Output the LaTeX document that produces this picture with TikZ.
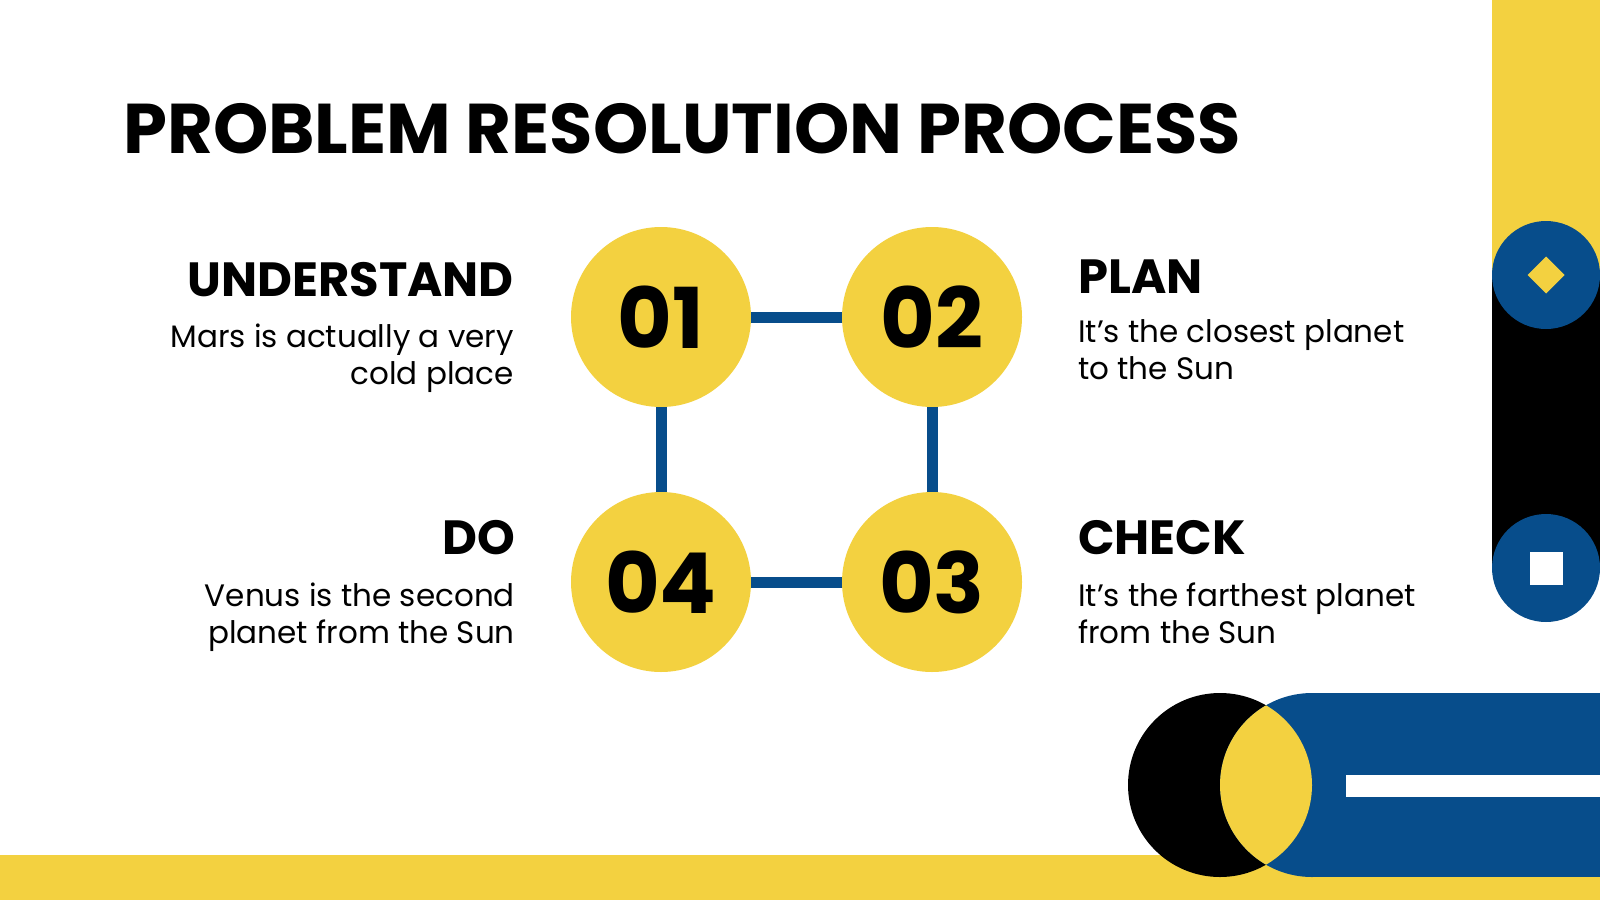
\documentclass[tikz,border=0pt]{standalone}
\usepackage{fontspec}
\setmainfont{Poppins}
\definecolor{ylw}{HTML}{F3D140}
\definecolor{blu}{HTML}{074D8B}
\tikzset{
  numdot/.style={circle, fill=ylw, minimum size=180pt, inner sep=0pt,
    font=\fontsize{84}{84}\selectfont\bfseries, text=black},
  conn/.style={draw=blu, line width=11pt},
  heading/.style={inner sep=0pt, font=\fontsize{48}{54}\selectfont\bfseries},
  bodytxt/.style={inner sep=0pt, font=\fontsize{31}{36.7}\selectfont},
  bluedot/.style={circle, fill=blu, minimum size=108pt, inner sep=0pt},
}
\begin{document}
\begin{tikzpicture}[x=1pt,y=-1pt]
\useasboundingbox (0,0) rectangle (1600,900);
\fill[white] (0,0) rectangle (1600,900);
% bottom bar
\fill[ylw] (0,855) rectangle (1600,900);
% right strip
\fill[ylw] (1492,0) rectangle (1600,275);
\fill[black] (1492,275) rectangle (1600,568);
\node[bluedot] (d1) at (1546,275) {};
\node[bluedot] (d2) at (1546,568) {};
\fill[ylw] (1546,256.5) -- (1564.5,275) -- (1546,293.5) -- (1527.5,275) -- cycle;
\fill[white] (1529.5,551.5) rectangle (1562.5,584.5);
% bottom right shapes
\fill[black] (1220,785) circle[radius=92];
\fill[blu] (1312,785) circle[radius=92];
\fill[blu] (1312,693) rectangle (1600,877);
\begin{scope}
  \clip (1220,785) circle[radius=92];
  \fill[ylw] (1312,785) circle[radius=92];
\end{scope}
\fill[white] (1346,775) rectangle (1600,797);
% title
\node[anchor=base west, inner sep=0pt, font=\fontsize{70.4}{80}\selectfont\bfseries] (title) at (123,153) {PROBLEM RESOLUTION PROCESS};
% circles
\node[numdot] (c1) at (661,317) {01};
\node[numdot] (c2) at (932,317) {02};
\node[numdot] (c3) at (932,582) {03};
\node[numdot] (c4) at (661,582) {04};
\draw[conn] (c1) -- (c2);
\draw[conn] (c2) -- (c3);
\draw[conn] (c3) -- (c4);
\draw[conn] (c4) -- (c1);
% texts
\node[heading, anchor=base east] (h1) at (514,296) {UNDERSTAND};
\node[bodytxt, anchor=base east, align=right] (b1) at (514,384) {Mars is actually a very\\cold place};
\node[heading, anchor=base west] (h2) at (1078,293) {PLAN};
\node[bodytxt, anchor=base west, align=left] (b2) at (1078,379) {It’s the closest planet\\to the Sun};
\node[heading, anchor=base east] (h4) at (515,554) {DO};
\node[bodytxt, anchor=base east, align=right] (b4) at (515,643) {Venus is the second\\planet from the Sun};
\node[heading, anchor=base west] (h3) at (1078,554) {CHECK};
\node[bodytxt, anchor=base west, align=left] (b3) at (1078,643) {It’s the farthest planet\\from the Sun};
\end{tikzpicture}
\end{document}
